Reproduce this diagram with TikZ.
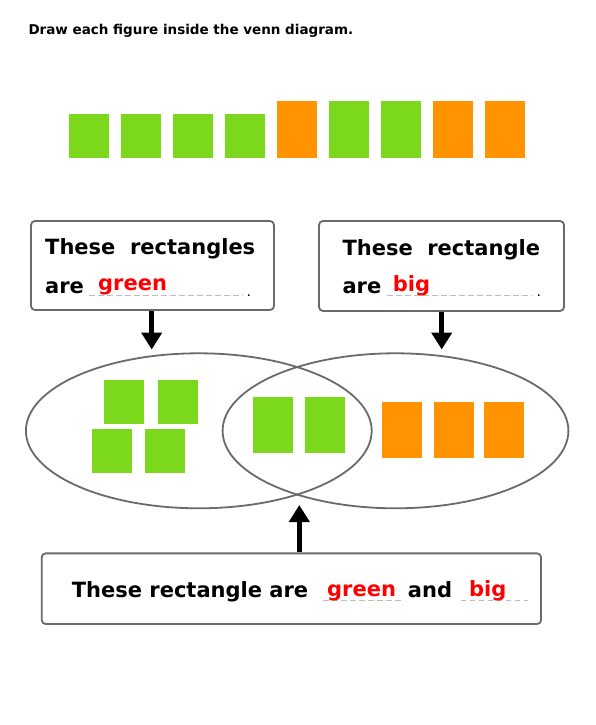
\documentclass[tikz,border=0pt]{standalone}
\usepackage{fontspec}
\setmainfont{DejaVu Sans}
\usetikzlibrary{arrows.meta,shapes.geometric}
\definecolor{LeafGreen}{HTML}{7CD81C}
\definecolor{SunOrange}{HTML}{FF9400}
\definecolor{AnsRed}{HTML}{FF0000}
\definecolor{FrameGray}{HTML}{6A6A6A}
\definecolor{DashGray}{HTML}{BDBDBD}
\tikzset{
  qbox/.style={rectangle, rounded corners=4pt, draw=FrameGray, line width=1.8pt,
               fill=white, inner sep=0pt},
  vset/.style={ellipse, draw=FrameGray, line width=1.8pt, inner sep=0pt,
               minimum width=345.8pt, minimum height=155pt},
  qtext/.style={font=\bfseries\fontsize{21}{25}\selectfont, inner sep=0pt, anchor=base west},
  ans/.style={qtext, text=AnsRed},
  stop/.style={font=\fontsize{14}{16}\selectfont, inner sep=0pt, anchor=base west},
  blank/.style={draw=DashGray, line width=1.4pt, dash pattern=on 5.5pt off 3.5pt},
  pointer/.style={line width=5pt, -{Triangle[width=20pt,length=17pt]}},
}

\begin{document}
\begin{tikzpicture}[x=1pt, y=-1pt]
\useasboundingbox[fill=white] (0,0) rectangle (595,725);
% ---------------------------------------------------------------- title
\node[font=\bfseries\fontsize{13.5}{16}\selectfont, inner sep=0pt, anchor=base west] (title) at (28.3,35) {Draw each figure inside the venn diagram.};
% ---------------------------------------------------------------- row of figures
\foreach \x in {69.3,121.3,173.3,225.3} {\fill[LeafGreen] (\x,114.3) rectangle ++(40,44);}
\foreach \x/\c in {277/SunOrange,329/LeafGreen,381/LeafGreen,432.7/SunOrange,484.7/SunOrange} {\fill[\c] (\x,101.3) rectangle ++(40,57);}
% ---------------------------------------------------------------- question boxes
\node[qbox, minimum width=243pt, minimum height=89pt] (lbox) at (152.5,265.5) {};
\node[qtext] (ltop) at (45,254.3) {These\ \ rectangles};
\node[qtext] (lare) at (45,293) {are};
\draw[blank] (89,295.5) -- (243,295.5);
\node[ans] (lans) at (98,290.5) {green};
\node[stop] (ldot) at (246.5,296) {.};

\node[qbox, minimum width=245pt, minimum height=90pt] (rbox) at (441.5,266) {};
\node[qtext] (rtop) at (342.3,255) {These\ \ rectangle};
\node[qtext] (rare) at (342.3,293) {are};
\draw[blank] (387.3,295.5) -- (531.7,295.5);
\node[ans] (rans) at (392.7,291) {big};
\node[stop] (rdot) at (536.5,296) {.};

\node[qbox, minimum width=499.3pt, minimum height=70.7pt] (bbox) at (291.4,588.7) {};
\node[qtext] (btext) at (71.7,597.7) {These rectangle are};
\draw[blank] (323.3,600.5) -- (403.3,600.5);
\node[ans] (bgreen) at (327,596) {green};
\node[qtext] (band) at (407.7,597.7) {and};
\draw[blank] (460.7,600.5) -- (528.3,600.5);
\node[ans] (bbig) at (469,596) {big};
% ---------------------------------------------------------------- venn diagram
\node[vset] (lset) at (198.8,430.8) {};
\node[vset] (rset) at (395.5,430.8) {};
\foreach \x/\y in {104.3/380,158.3/380,91.7/429.3,145.3/429.3} {\fill[LeafGreen] (\x,\y) rectangle ++(40,44);}
\foreach \x in {253,305} {\fill[LeafGreen] (\x,396.7) rectangle ++(40,56.7);}
\foreach \x in {382.3,434,484} {\fill[SunOrange] (\x,401.7) rectangle ++(40,56.7);}
% ---------------------------------------------------------------- pointers
\coordinate (ltip) at (151.7,349.5);
\coordinate (rtip) at (441.7,349.5);
\coordinate (btip) at (299.3,505);
\draw[pointer] (lbox.south -| ltip) -- (ltip);
\draw[pointer] (rbox.south -| rtip) -- (rtip);
\draw[pointer] (bbox.north -| btip) -- (btip);
\end{tikzpicture}
\end{document}
